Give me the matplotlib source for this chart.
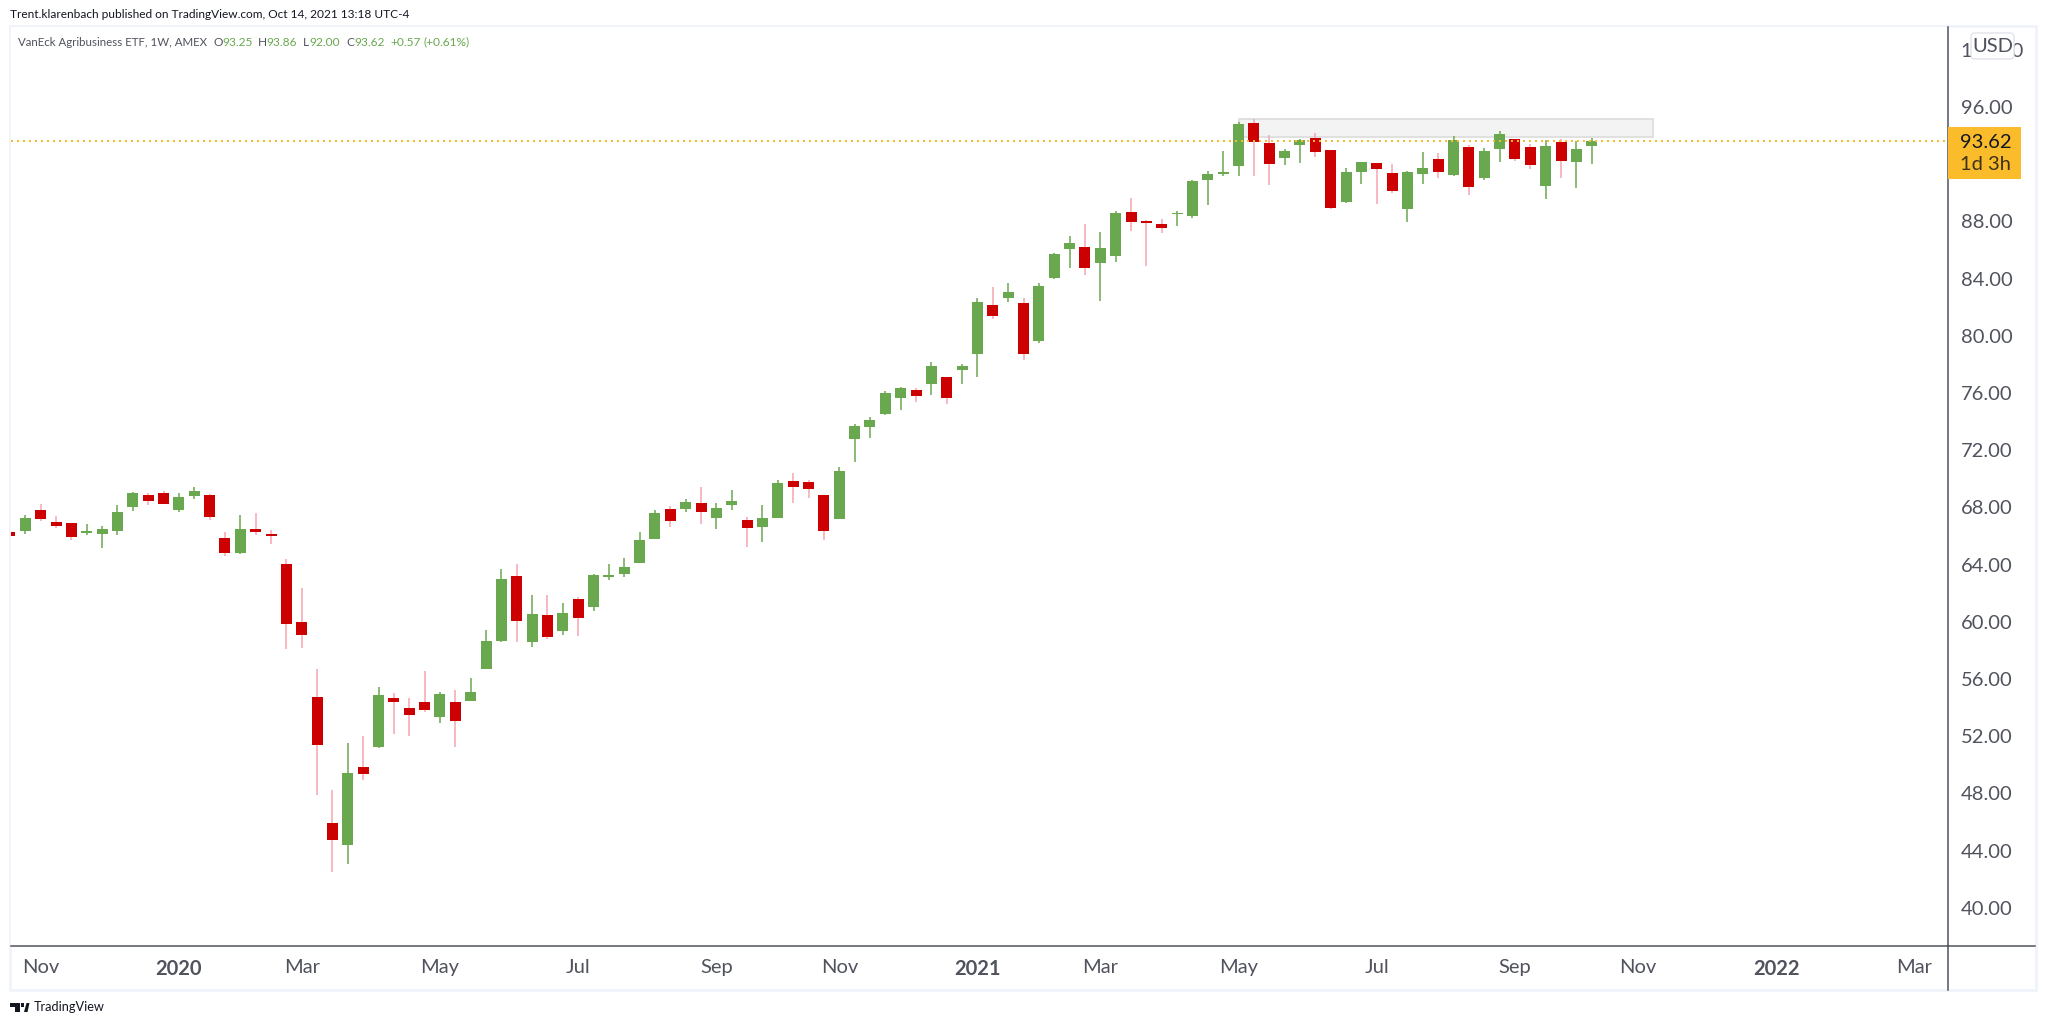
import matplotlib
matplotlib.use('Agg')
import matplotlib.pyplot as plt
from matplotlib.lines import Line2D
from matplotlib.patches import FancyBboxPatch, Polygon, Rectangle
from matplotlib.transforms import IdentityTransform

plt.rcParams['font.family'] = ['Lato', 'DejaVu Sans']

W, H = 2046, 1025

# Weekly OHLC
opens = [66.28, 66.35, 67.82, 66.98, 66.91, 66.21, 66.14, 66.35, 68.03, 68.87,
         69.01, 67.82, 68.80, 68.87, 65.86, 64.82, 66.49, 66.14, 64.05, 59.99,
         54.74, 45.92, 44.39, 49.84, 51.24, 54.67, 53.97, 54.39, 53.34, 54.39,
         54.46, 56.69, 58.65, 63.20, 58.58, 60.47, 59.35, 61.59, 61.03, 63.13,
         63.34, 64.11, 65.79, 67.88, 67.88, 68.30, 67.25, 68.16, 67.11, 66.62,
         67.25, 69.84, 69.77, 68.86, 67.18, 72.79, 73.62, 74.53, 75.65, 76.21,
         76.63, 77.12, 77.61, 78.72, 82.15, 82.64, 82.29, 79.63, 84.04, 86.06,
         86.20, 85.09, 85.58, 88.65, 88.02, 87.81, 88.51, 88.37, 90.90, 91.32,
         91.87, 94.88, 93.48, 92.43, 93.34, 93.83, 92.99, 89.36, 91.46, 92.08,
         91.39, 88.87, 91.32, 92.36, 91.25, 93.20, 91.04, 93.06, 93.76, 93.20,
         90.48, 93.55, 92.15, 93.25]
highs = [66.28, 67.47, 68.24, 67.40, 66.91, 66.84, 66.70, 68.17, 69.08, 69.01,
         69.15, 69.01, 69.43, 68.94, 66.28, 67.47, 67.61, 66.42, 64.40, 62.37,
         56.69, 48.23, 51.52, 52.01, 55.43, 55.02, 54.67, 56.55, 55.09, 55.22,
         56.06, 59.42, 63.69, 64.04, 61.87, 61.87, 61.31, 61.73, 63.34, 64.04,
         64.46, 66.28, 67.81, 68.09, 68.58, 69.42, 68.30, 69.21, 67.32, 68.16,
         69.91, 70.40, 69.91, 68.86, 70.82, 73.83, 74.32, 76.14, 76.42, 76.35,
         78.17, 77.12, 78.03, 82.64, 83.41, 83.69, 82.64, 83.69, 85.79, 86.97,
         87.81, 87.25, 88.72, 89.63, 88.09, 88.16, 88.72, 90.89, 91.52, 92.92,
         94.95, 95.16, 94.04, 93.06, 93.76, 94.18, 92.99, 91.73, 92.15, 92.08,
         92.01, 91.52, 92.85, 92.78, 93.97, 93.34, 93.13, 94.32, 93.76, 93.41,
         93.69, 93.76, 93.62, 93.86]
lows = [66.00, 66.14, 67.05, 66.56, 65.72, 66.07, 65.16, 66.07, 67.75, 68.17,
        68.24, 67.68, 68.59, 67.12, 64.61, 64.75, 66.07, 65.44, 58.12, 58.16,
        47.91, 42.50, 43.06, 48.93, 51.17, 52.15, 52.01, 53.69, 52.92, 51.24,
        54.46, 56.69, 58.58, 58.58, 58.23, 58.79, 59.07, 59.00, 60.75, 62.92,
        63.13, 64.11, 65.79, 66.62, 67.67, 66.83, 66.48, 67.81, 65.23, 65.58,
        67.25, 68.30, 68.65, 65.72, 67.18, 71.18, 72.86, 74.46, 74.81, 75.37,
        75.86, 75.23, 76.63, 77.11, 81.17, 82.36, 78.30, 79.49, 83.97, 84.74,
        84.25, 82.43, 85.16, 87.32, 84.88, 87.18, 87.67, 88.23, 89.15, 91.18,
        91.18, 91.18, 90.55, 91.94, 92.08, 92.50, 88.87, 89.29, 90.62, 89.22,
        89.99, 87.96, 90.62, 91.04, 91.18, 89.85, 90.90, 92.15, 92.22, 91.66,
        89.57, 91.04, 90.34, 92.00]
closes = [66.00, 67.26, 67.19, 66.70, 65.93, 66.35, 66.49, 67.68, 69.01, 68.45,
          68.24, 68.73, 69.15, 67.33, 64.82, 66.49, 66.28, 66.00, 59.85, 59.07,
          51.38, 44.74, 49.42, 49.35, 54.88, 54.39, 53.48, 53.83, 54.95, 53.06,
          55.09, 58.65, 62.99, 60.05, 60.54, 58.93, 60.61, 60.26, 63.27, 63.27,
          63.83, 65.72, 67.60, 67.04, 68.37, 67.67, 67.95, 68.44, 66.55, 67.25,
          69.70, 69.42, 69.28, 66.34, 70.54, 73.69, 74.11, 76.00, 76.35, 75.79,
          77.89, 75.65, 77.89, 82.36, 81.38, 83.06, 78.72, 83.48, 85.72, 86.48,
          84.74, 86.13, 88.58, 87.95, 87.88, 87.53, 88.58, 90.82, 91.32, 91.46,
          94.81, 93.55, 92.01, 92.92, 93.69, 92.85, 88.94, 91.46, 92.15, 91.66,
          90.13, 91.46, 91.73, 91.46, 93.69, 90.41, 92.92, 94.11, 92.36, 91.94,
          93.27, 92.22, 93.06, 93.62]

last_price = 93.62
price_ticks = [40, 44, 48, 52, 56, 60, 64, 68, 72, 76, 80, 84, 88, 96, 100]
month_pos = [2, 11, 19, 28, 37, 46, 54, 63, 71, 80, 89, 98, 106, 115, 124]
month_labels = ['Nov', '2020', 'Mar', 'May', 'Jul', 'Sep', 'Nov', '2021', 'Mar',
                'May', 'Jul', 'Sep', 'Nov', '2022', 'Mar']
zone_start, zone_end = 80, 107
zone_low, zone_high = 93.92, 95.16

GREEN = '#6aa84f'
RED = '#cc0000'
PINK = '#f5a6b2'
AXIS = '#50535e'
TEXT = '#50535e'
BORDER = '#f0f3fa'
TAG = '#fbbc2c'

# pane edges in pixels
LEFT, RIGHT, TOP, BOTTOM = 11, 1948, 27, 946


def fx(x):
    return x / W


def fy(y):
    return 1 - y / H


fig = plt.figure(figsize=(W / 100, H / 100), dpi=100, facecolor='w')
ax = fig.add_axes([fx(LEFT), fy(BOTTOM), (RIGHT - LEFT) / W, (BOTTOM - TOP) / H])

x = list(range(len(opens)))
wick_colors = [GREEN if c >= o else PINK for o, c in zip(opens, closes)]
body_colors = [GREEN if c >= o else RED for o, c in zip(opens, closes)]
bottoms = [min(o, c) for o, c in zip(opens, closes)]
heights = [abs(c - o) for o, c in zip(opens, closes)]

# resistance zone sits under the candles
ax.add_patch(Rectangle((zone_start, zone_low), zone_end - zone_start, zone_high - zone_low,
                       facecolor='#f3f3f3', edgecolor='#e0e0e0', linewidth=1.4, zorder=1))
ax.vlines(x, lows, highs, colors=wick_colors, linewidth=1.1, zorder=2)
ax.bar(x, heights, bottom=bottoms, width=0.716, color=body_colors, linewidth=0, zorder=3)
ax.axhline(last_price, color=TAG, linewidth=1.44, linestyle=(0, (1, 2)), zorder=4)

ax.set_xlim(0.065, 126.2)
ax.set_ylim(37.33, 101.59)

ax.yaxis.tick_right()
ax.set_yticks(price_ticks)
ax.set_yticklabels(['%.2f' % p for p in price_ticks])
ax.tick_params(axis='y', length=0, pad=9.2, labelsize=14.5, labelcolor=TEXT)
ax.set_xticks(month_pos)
ax.set_xticklabels(month_labels)
ax.tick_params(axis='x', length=0, pad=9.5, labelsize=14.5, labelcolor=TEXT)
for label in ax.get_xticklabels():
    if label.get_text().isdigit():
        label.set_fontweight('bold')

for side in ['top', 'left']:
    ax.spines[side].set_visible(False)
for side in ['right', 'bottom']:
    ax.spines[side].set_color(AXIS)
    ax.spines[side].set_linewidth(1.1)

# outer frame and the axis lines that carry on past the pane
fig.add_artist(Rectangle((9.5, H - 990), 2036 - 9.5, 990 - 26, transform=IdentityTransform(),
                         fill=False, edgecolor=BORDER, linewidth=2, zorder=-1))
fig.add_artist(Line2D([fx(RIGHT), fx(RIGHT)], [fy(BOTTOM), fy(990)], color=AXIS, linewidth=1.1))
fig.add_artist(Line2D([fx(RIGHT), fx(2035)], [fy(BOTTOM), fy(BOTTOM)], color=AXIS, linewidth=1.1))

# last price tag
fig.add_artist(Rectangle((RIGHT, H - 179), 2021 - RIGHT, 52, transform=IdentityTransform(),
                         facecolor=TAG, edgecolor='none', zorder=5))
fig.text(fx(1986), fy(142.5), '%.2f' % last_price, ha='center', va='center', fontsize=14.5,
         color='#131722', zorder=6)
fig.text(fx(1986), fy(165), '1d 3h', ha='center', va='center', fontsize=14.5, color='#3d3216', zorder=6)

# currency button hides most of the 100.00 label
fig.add_artist(FancyBboxPatch((1974, H - 56), 37, 20, boxstyle='round,pad=3,rounding_size=4',
                              transform=IdentityTransform(), facecolor='w', edgecolor='#e0e3eb',
                              linewidth=1, zorder=5))
fig.text(fx(1992.5), fy(46), 'USD', ha='center', va='center', fontsize=14.5, color=TEXT, zorder=6)

# header and legend
fig.text(fx(10), fy(15), 'Trent.klarenbach published on TradingView.com, Oct 14, 2021 13:18 UTC-4',
         ha='left', va='center', fontsize=8.6, color='#131722')
fig.text(fx(18), fy(42), 'VanEck Agribusiness ETF, 1W, AMEX', ha='left', va='center',
         fontsize=8.25, color=TEXT)
legend_letters = [(213, 'O'), (258, 'H'), (303, 'L'), (346, 'C')]
legend_values = [(222, '93.25'), (266, '93.86'), (309, '92.00'), (354, '93.62'),
                 (390, '+0.57'), (423, '(+0.61%)')]
for px, s in legend_letters:
    fig.text(fx(px), fy(42), s, ha='left', va='center', fontsize=8.6, color=TEXT)
for px, s in legend_values:
    fig.text(fx(px), fy(42), s, ha='left', va='center', fontsize=8.6, color=GREEN)

# TradingView logo
logo = [[(10, 1003), (20, 1003), (20, 1012), (15, 1012), (15, 1007), (10, 1007)],
        [(24, 1012), (26.5, 1003), (29.5, 1003), (27.5, 1012)]]
for pts in logo:
    fig.add_artist(Polygon([(fx(a), fy(b)) for a, b in pts], closed=True, facecolor='#131722',
                           edgecolor='none'))
fig.add_artist(Rectangle((20.5, H - 1006.5), 3, 3.5, transform=IdentityTransform(),
                         facecolor='#131722', edgecolor='none'))
fig.text(fx(34), fy(1007), 'TradingView', ha='left', va='center', fontsize=9.2, color='#131722')

fig.savefig('out.png', dpi=100)
